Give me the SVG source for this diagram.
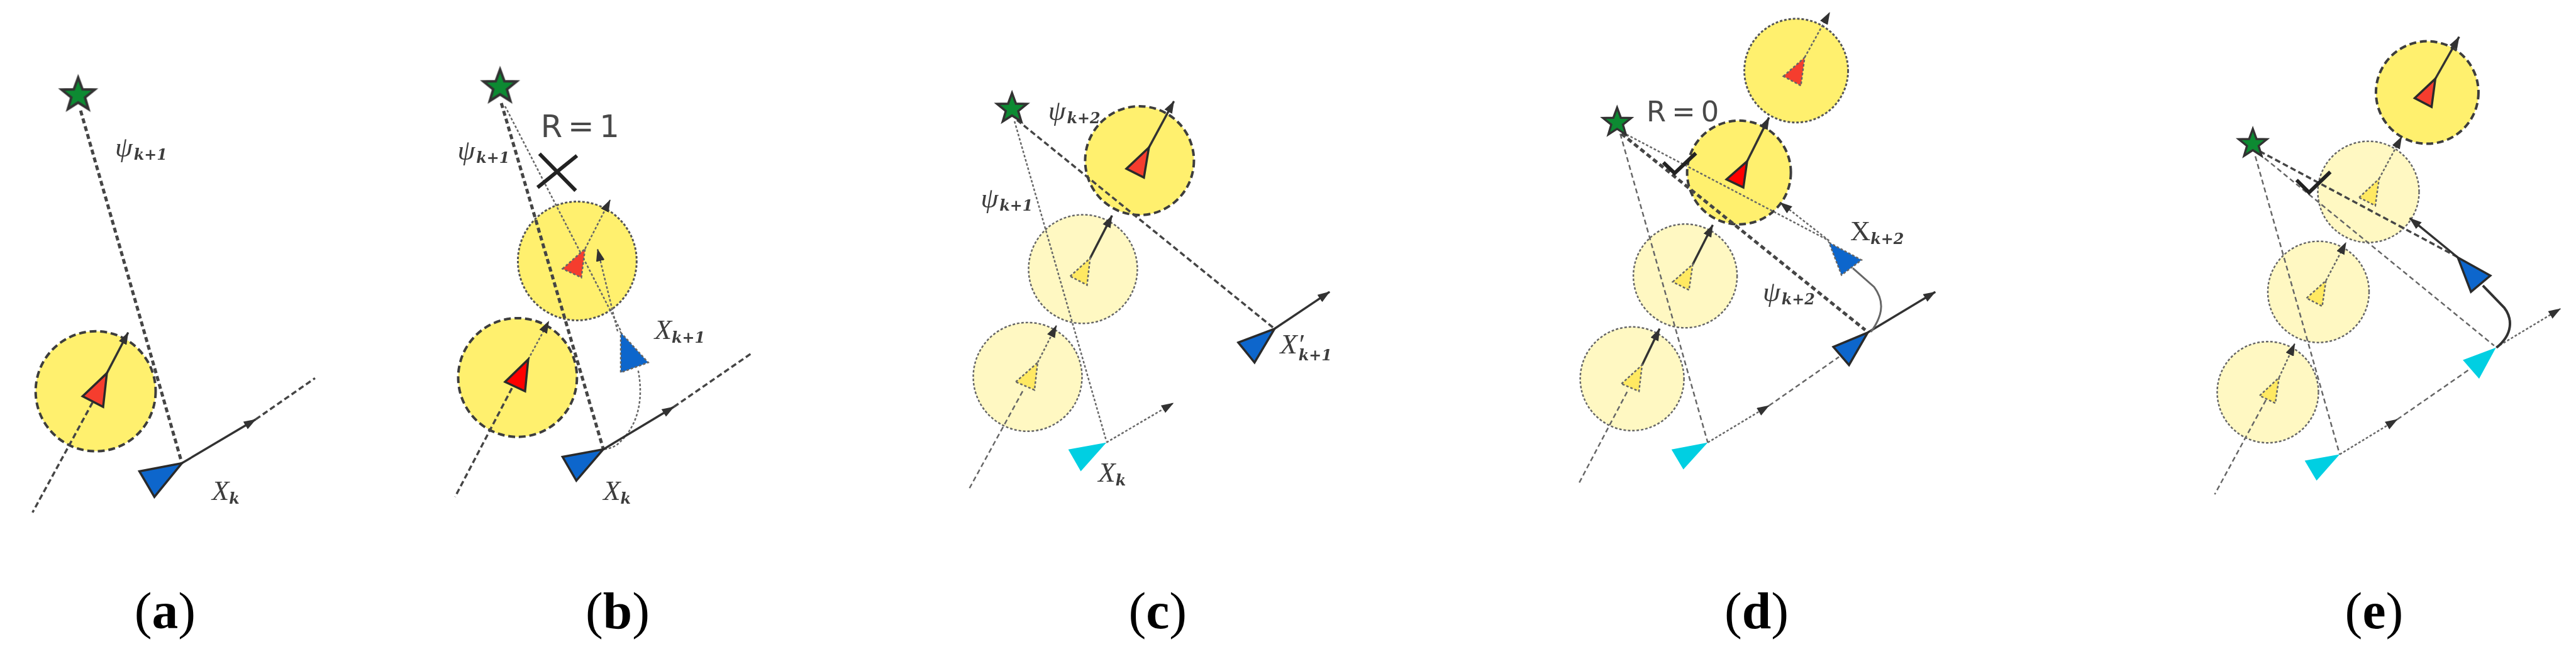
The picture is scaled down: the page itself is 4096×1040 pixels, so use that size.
<svg xmlns="http://www.w3.org/2000/svg" width="4096" height="1040" viewBox="0 0 4096 1040">
<style>
.cd{fill:#fff06e;stroke:#3c3c3c;stroke-width:4;stroke-dasharray:11 6}
.co{fill:#fff06e;stroke:#555;stroke-width:3;stroke-dasharray:4 3}
.cp{fill:#fff8c2;stroke:#666;stroke-width:2.5;stroke-dasharray:4 3}
.t{stroke:#2a2a2a;stroke-width:3.5;stroke-linejoin:miter}
.td{stroke:#666;stroke-width:2.5;stroke-dasharray:4 3}
.red{fill:#f53d2d}.redd{fill:#f00}.blue{fill:#0a66cc}.cyan{fill:#00cfe2}.pale{fill:#ffe962}
.star{fill:#0a8a30;stroke:#333;stroke-width:4}
line,path.l{fill:none}
.s{stroke:#333;stroke-width:3.5}
.hd{stroke:#444;stroke-width:5;stroke-dasharray:8 5}
.md{stroke:#444;stroke-width:3.5;stroke-dasharray:9 5}
.ld{stroke:#666;stroke-width:2.5;stroke-dasharray:8 5}
.dt{stroke:#666;stroke-width:2.5;stroke-dasharray:4 3}
.mk{stroke:#222;stroke-width:6;fill:none}
text{fill:#3c3c3c}
.m{font-family:"Liberation Serif",serif;font-style:italic;font-size:45px}
.u{font-style:normal}
.b{font-family:"DejaVu Serif",serif;font-size:24px;font-style:italic;font-weight:bold}
.r{font-family:"DejaVu Sans",sans-serif;font-size:50px;fill:#4a4a4a}
.r2{font-size:45px}
.c{font-family:"Liberation Serif",serif;font-size:84px;fill:#000;text-anchor:middle}
.c tspan{font-weight:bold}
.art{filter:url(#soft)}
</style>
<defs>
<filter id="soft" filterUnits="userSpaceOnUse" x="0" y="0" width="4121" height="1046"><feGaussianBlur stdDeviation="0.7"/></filter>
<marker id="ah" viewBox="0 0 20 14" refX="19" refY="7" markerWidth="20" markerHeight="14" orient="auto" markerUnits="userSpaceOnUse"><path d="M0 0L20 7L0 14z" fill="#333"/></marker>
<polygon id="st" points="0,-28 7,-9 26.6,-8.65 11,4 16.5,22.65 0,12 -16.5,22.65 -11,4 -26.6,-8.65 -7,-9"/>
</defs>
<rect width="4096" height="1040" fill="#fff"/>
<g transform="scale(0.99393)">

<g id="panel-a" class="art">
<g id="a-obstacle-circle"><circle class="cd" cx="153" cy="626" r="96"/></g>
<g id="a-connectors">
<line class="hd" x1="129" y1="177" x2="291" y2="741"/>
<line class="md" x1="148" y1="644" x2="52" y2="820"/>
<line class="s" x1="171" y1="597" x2="205" y2="532" marker-end="url(#ah)"/>
<line class="s" x1="291" y1="741" x2="409" y2="671" marker-end="url(#ah)"/>
<line class="md" x1="409" y1="671" x2="504" y2="605"/>
</g>
<g id="a-star"><use href="#st" class="star" x="125" y="152"/></g>
<g id="a-obstacle"><polygon class="t red" points="132,634 171,597 165,651"/></g>
<g id="a-robot"><polygon class="t blue" points="223,754 291,741 247,795"/></g>
<text class="m" x="184" y="251">ψ<tspan class="b" dy="5" dx="2">k+1</tspan></text>
<text class="m" x="339" y="800">X<tspan class="b" dy="6">k</tspan></text>
</g>

<g id="panel-b" class="art">
<g id="b-obstacle-old-circle"><circle class="cd" cx="828" cy="604" r="95"/></g>
<g id="b-obstacle-new-circle"><circle class="co" cx="923.5" cy="417.5" r="95"/></g>
<g id="b-connectors">
<line class="hd" x1="802" y1="165" x2="965" y2="718"/>
<line class="dt" x1="808" y1="170" x2="993" y2="529" stroke-width="3"/>
<line class="dt" x1="845" y1="575" x2="878" y2="514" marker-end="url(#ah)"/>
<line class="md" x1="819" y1="621" x2="728" y2="795"/>
<line class="dt" x1="936" y1="398" x2="976" y2="320" marker-end="url(#ah)"/>
<line class="dt" x1="988" y1="530" x2="956" y2="399" marker-end="url(#ah)"/>
<path class="l dt" d="M1021 593C1030 640 1020 680 993 706C985 715 975 718 965 719"/>
<line class="s" x1="965" y1="719" x2="1078" y2="651" marker-end="url(#ah)"/>
<line class="md" x1="1078" y1="651" x2="1204" y2="564"/>
<path class="mk" d="M863 246L921 305M860 300L923 249"/>
</g>
<g id="b-star"><use href="#st" class="star" x="800" y="139"/></g>
<g id="b-obstacle-old"><polygon class="t redd" points="808,611 845,575 840,626"/></g>
<g id="b-obstacle-new"><polygon class="td red" points="900,430 936,398 930,444"/></g>
<g id="b-robot-new"><polygon class="td blue" points="993,532 1037,580 993,596"/></g>
<g id="b-robot"><polygon class="t blue" points="900,731 965,719 922,769"/></g>
<text class="r" x="865" y="219" textLength="126">R = 1</text>
<text class="m" x="732" y="256">ψ<tspan class="b" dy="5" dx="2">k+1</tspan></text>
<text class="m" x="1047" y="542">X<tspan class="b" dy="6">k+1</tspan></text>
<text class="m" x="965" y="800">X<tspan class="b" dy="6">k</tspan></text>
</g>

<g id="panel-c" class="art">
<g id="c-obstacle-1-circle"><circle class="cp" cx="1644" cy="603" r="87"/></g>
<g id="c-obstacle-2-circle"><circle class="cp" cx="1732.5" cy="430.5" r="87"/></g>
<g id="c-obstacle-3-circle"><circle class="cd" cx="1823" cy="257" r="87"/></g>
<g id="c-connectors">
<line class="dt" x1="1623" y1="194" x2="1770" y2="706"/>
<line class="md" x1="1627" y1="192" x2="2039" y2="526"/>
<line class="s" x1="1838" y1="236" x2="1878" y2="162" marker-end="url(#ah)"/>
<line class="s" stroke-width="2.5" x1="1744" y1="413" x2="1779" y2="345" marker-end="url(#ah)"/>
<line class="dt" x1="1660" y1="580" x2="1690" y2="521" marker-end="url(#ah)"/>
<line class="ld" x1="1636" y1="626" x2="1551" y2="781"/>
<line class="dt" x1="1770" y1="708" x2="1877" y2="645" marker-end="url(#ah)"/>
<line class="s" x1="2039" y1="526" x2="2127" y2="467" marker-end="url(#ah)"/>
</g>
<g id="c-star"><use href="#st" class="star" transform="translate(1619 174) scale(.9)"/></g>
<g id="c-obstacle-3"><polygon class="t red" points="1802,270 1838,236 1830,284"/></g>
<g id="c-obstacle-2"><polygon class="td pale" points="1712,442 1744,413 1739,456"/></g>
<g id="c-obstacle-1"><polygon class="td pale" points="1625,611 1660,580 1655,624"/></g>
<g id="c-robot-old"><polygon class="cyan" points="1709,719 1770,708 1729,754"/></g>
<g id="c-robot"><polygon class="t blue" points="1981,548 2039,526 2007,580"/></g>
<text class="m" x="1677" y="192">ψ<tspan class="b" dy="5" dx="2">k+2</tspan></text>
<text class="m" x="1569" y="332">ψ<tspan class="b" dy="5" dx="2">k+1</tspan></text>
<text class="m" x="1757" y="771">X<tspan class="b" dy="6">k</tspan></text>
<text class="m" x="2048" y="565">X′<tspan class="b" dy="12" dx="-8">k+1</tspan></text>
</g>

<g id="panel-d" class="art">
<g id="d-obstacle-1-circle"><circle class="cp" cx="2611" cy="606" r="83"/></g>
<g id="d-obstacle-2-circle"><circle class="cp" cx="2696" cy="441.5" r="83"/></g>
<g id="d-obstacle-4-circle"><circle class="co" cx="2873.5" cy="113" r="83"/></g>
<g id="d-obstacle-3-circle"><circle class="cd" cx="2782" cy="276" r="83"/></g>
<g id="d-connectors">
<line class="ld" x1="2592" y1="214" x2="2732" y2="708"/>
<line class="hd" stroke-width="4" x1="2594" y1="214" x2="2984" y2="528"/>
<line class="dt" stroke-width="3" x1="2596" y1="212" x2="2926" y2="385"/>
<line class="dt" x1="2926" y1="385" x2="2848" y2="324" marker-end="url(#ah)"/>
<line class="dt" x1="2887" y1="92" x2="2927" y2="20" marker-end="url(#ah)"/>
<line class="s" x1="2795" y1="258" x2="2830" y2="188" marker-end="url(#ah)"/>
<line class="s" stroke-width="2.5" x1="2708" y1="423" x2="2740" y2="360" marker-end="url(#ah)"/>
<line class="s" stroke-width="2.5" x1="2627" y1="584" x2="2655" y2="526" marker-end="url(#ah)"/>
<line class="ld" x1="2603" y1="627" x2="2525" y2="775"/>
<line class="dt" x1="2732" y1="708" x2="2830" y2="649" marker-end="url(#ah)"/>
<line class="ld" x1="2830" y1="649" x2="2942" y2="571"/>
<line class="s" x1="2988" y1="532" x2="3096" y2="467" marker-end="url(#ah)"/>
<path class="l" stroke="#666" stroke-width="3" d="M2964 429L2998 459C3012 478 3016 500 2993 531"/>
<path class="mk" d="M2661 260L2679 277L2713 245"/>
</g>
<g id="d-star"><use href="#st" class="star" transform="translate(2587 196) scale(.85)"/></g>
<g id="d-obstacle-4"><polygon class="td red" points="2853,122 2887,92 2881,137"/></g>
<g id="d-obstacle-3"><polygon class="t redd" points="2762,287 2795,258 2789,300"/></g>
<g id="d-obstacle-2"><polygon class="td pale" points="2676,451 2708,423 2702,464"/></g>
<g id="d-obstacle-1"><polygon class="td pale" points="2594,614 2627,584 2622,626"/></g>
<g id="d-robot-old"><polygon class="cyan" points="2674,719 2732,708 2693,751"/></g>
<g id="d-robot"><polygon class="t blue" points="2933,555 2988,532 2958,584"/></g>
<g id="d-robot-new"><polygon class="td blue" points="2926,388 2978,416 2946,440"/></g>
<text class="r r2" x="2634" y="194" textLength="116">R = 0</text>
<text class="m u" x="2960" y="384">X<tspan class="b" dy="6">k+2</tspan></text>
<text class="m" x="2820" y="482">ψ<tspan class="b" dy="5" dx="2">k+2</tspan></text>
</g>

<g id="panel-e" class="art">
<g id="e-obstacle-1-circle"><circle class="cp" cx="3628" cy="627.5" r="81"/></g>
<g id="e-obstacle-2-circle"><circle class="cp" cx="3709" cy="467" r="81"/></g>
<g id="e-obstacle-3-circle"><circle class="cp" cx="3789" cy="307" r="81"/></g>
<g id="e-obstacle-4-circle"><circle class="cd" cx="3883" cy="148" r="82"/></g>
<g id="e-connectors">
<line class="ld" x1="3608" y1="250" x2="3743" y2="727"/>
<line class="ld" x1="3613" y1="245" x2="3990" y2="553"/>
<line class="md" x1="3615" y1="242" x2="3931" y2="411"/>
<line class="s" stroke-width="5" x1="3932" y1="412" x2="3855" y2="349" marker-end="url(#ah)"/>
<line class="s" x1="3896" y1="126" x2="3934" y2="59" marker-end="url(#ah)"/>
<line class="dt" x1="3806" y1="286" x2="3842" y2="219" marker-end="url(#ah)"/>
<line class="dt" x1="3721" y1="449" x2="3753" y2="388" marker-end="url(#ah)"/>
<line class="dt" x1="3646" y1="604" x2="3671" y2="550" marker-end="url(#ah)"/>
<line class="ld" x1="3625" y1="640" x2="3543" y2="791"/>
<line class="dt" x1="3743" y1="727" x2="3835" y2="671" marker-end="url(#ah)"/>
<line class="ld" x1="3835" y1="671" x2="3949" y2="592"/>
<line class="dt" x1="3993" y1="556" x2="4096" y2="494" marker-end="url(#ah)"/>
<path class="l" stroke="#333" stroke-width="4" d="M3972 457L4006 492C4020 510 4020 535 3994 556"/>
<path class="mk" d="M3674 288L3694 308L3728 275"/>
</g>
<g id="e-star"><use href="#st" class="star" transform="translate(3604 230) scale(.85)"/></g>
<g id="e-obstacle-4"><polygon class="t red" points="3863,157 3896,126 3890,171"/></g>
<g id="e-obstacle-3"><polygon class="td pale" points="3774,316 3806,286 3800,329"/></g>
<g id="e-obstacle-2"><polygon class="td pale" points="3690,477 3721,449 3715,490"/></g>
<g id="e-obstacle-1"><polygon class="td pale" points="3615,633 3646,604 3640,645"/></g>
<g id="e-robot-old"><polygon class="cyan" points="3687,737 3743,727 3706,769"/></g>
<g id="e-robot-mid"><polygon class="cyan" points="3940,576 3993,556 3966,606"/></g>
<g id="e-robot-new"><polygon class="t blue" points="3932,412 3984,441 3953,467"/></g>
</g>

<g id="captions">
<text class="c" x="264" y="1005">(<tspan>a</tspan>)</text>
<text class="c" x="988" y="1005">(<tspan>b</tspan>)</text>
<text class="c" x="1852" y="1005">(<tspan>c</tspan>)</text>
<text class="c" x="2810" y="1005">(<tspan>d</tspan>)</text>
<text class="c" x="3798" y="1005">(<tspan>e</tspan>)</text>
</g>

</g>
</svg>
